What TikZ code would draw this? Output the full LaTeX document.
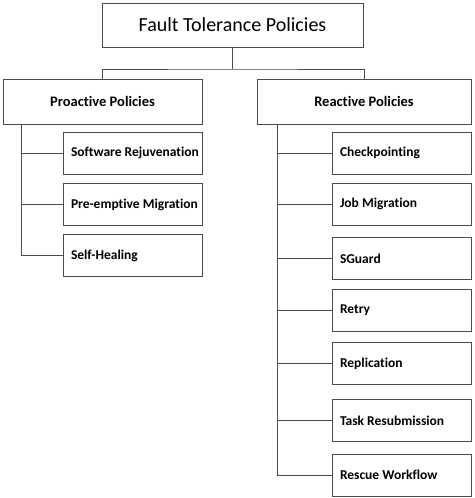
\documentclass[tikz,border=0pt]{standalone}
\usepackage{fontspec}
\setmainfont{Carlito}[Ligatures=NoCommon]
\usetikzlibrary{positioning}
\begin{document}
\begin{tikzpicture}[x=1pt,y=-1pt,on grid,node distance=51pt]
\tikzstyle{box} = [rectangle,draw=black!70,line width=1pt,inner sep=0pt]
\tikzstyle{head} = [box,minimum height=45pt,font=\bfseries\fontsize{14.5}{17}\selectfont]
\tikzstyle{leaf} = [box,minimum height=42pt,text width=139pt,align=flush left,
    execute at begin node=\hspace*{8pt},font=\bfseries\fontsize{13.5}{16}\selectfont]
    \useasboundingbox (0,0) rectangle (474,498);
    \node[box,minimum width=261pt,minimum height=44pt,font=\fontsize{20}{24}\selectfont] (ftp) at (232.5,25) {Fault Tolerance Policies};
    \node[head,minimum width=199pt] (pro) at (102.5,101.5) {Proactive Policies};
    \node[head,minimum width=214pt] (rea) at (364,101.5) {Reactive Policies};

    \node[leaf] (swr) at (132.5,153) {Software Rejuvenation};
    \node[leaf] (pem) [below=51.5pt of swr] {Pre-emptive Migration};
    \node[leaf] (shl) [below=of pem] {Self-Healing};

    \node[leaf] (chk) at (401.5,153) {Checkpointing};
    \node[leaf] (jbm) [below=of chk] {Job Migration};
    \node[leaf] (sgd) [below=54.5pt of jbm] {SGuard};
    \node[leaf] (rty) [below=52pt of sgd] {Retry};
    \node[leaf] (rep) [below=53pt of rty] {Replication};
    \node[leaf] (tsk) [below=57pt of rep] {Task Resubmission};
    \node[leaf] (rsw) [below=54.5pt of tsk] {Rescue Workflow};

    \tikzset{mystyle/.style={draw=black!70,line width=1pt}}
    \coordinate (bar) at (232.5,69);
    \coordinate (prot) at ([xshift=19pt]pro.south west);
    \coordinate (reat) at ([xshift=21pt]rea.south west);
    \draw[mystyle] (ftp.south) -- (bar);
    \draw[mystyle] (pro.north) |- (bar) -| (rea.north);
    \draw[mystyle] (prot) |- (shl.west);
    \foreach \n in {swr,pem}
        \draw[mystyle] (prot |- \n.west) -- (\n.west);
    \draw[mystyle] (reat) |- (rsw.west);
    \foreach \n in {chk,jbm,sgd,rty,rep,tsk}
        \draw[mystyle] (reat |- \n.west) -- (\n.west);
\end{tikzpicture}
\end{document}
